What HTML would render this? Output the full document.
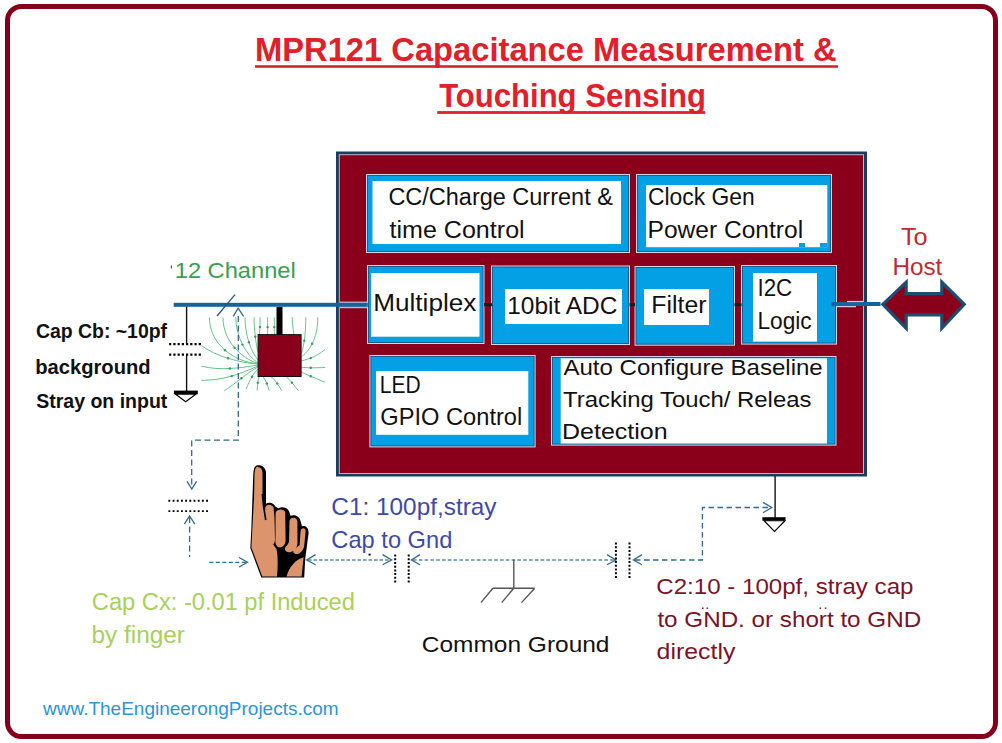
<!DOCTYPE html>
<html><head><meta charset="utf-8">
<style>
html,body{margin:0;padding:0;background:#ffffff;}
svg{display:block;font-family:"Liberation Sans", sans-serif;}
</style></head><body>
<svg width="1002" height="743" viewBox="0 0 1002 743">
<rect x="7.5" y="6.5" width="988" height="730" rx="14" ry="14" fill="#ffffff" stroke="#83001a" stroke-width="5"/>
<rect x="336" y="151.5" width="531" height="325" fill="#173f5c"/>
<rect x="338.8" y="154.2" width="525.2" height="319.8" fill="#c0b0cc"/>
<rect x="339.8" y="155.2" width="523.2" height="317.8" fill="#8a001a"/>
<rect x="366" y="174" width="264" height="79" fill="#d9d2e6"/>
<rect x="367" y="175" width="262" height="77" fill="#14608f"/>
<rect x="368" y="176" width="260" height="75" fill="#04a0e6"/>
<rect x="372.5" y="181" width="248.5" height="63" fill="#ffffff"/>
<rect x="636" y="174" width="196" height="79" fill="#d9d2e6"/>
<rect x="637" y="175" width="194" height="77" fill="#14608f"/>
<rect x="638" y="176" width="192" height="75" fill="#04a0e6"/>
<rect x="646" y="185" width="181.29999999999995" height="62.19999999999999" fill="#ffffff"/>
<rect x="799" y="243" width="6" height="4.3" fill="#04a0e6"/><rect x="820" y="243" width="7.4" height="4.3" fill="#04a0e6"/>
<rect x="367" y="265" width="117.5" height="79" fill="#d9d2e6"/>
<rect x="368" y="266" width="115.5" height="77" fill="#14608f"/>
<rect x="369" y="267" width="113.5" height="75" fill="#04a0e6"/>
<rect x="371" y="273" width="108.5" height="63.69999999999999" fill="#ffffff"/>
<rect x="491" y="265.5" width="139" height="79.5" fill="#d9d2e6"/>
<rect x="492" y="266.5" width="137" height="77.5" fill="#14608f"/>
<rect x="493" y="267.5" width="135" height="75.5" fill="#04a0e6"/>
<rect x="505" y="289" width="117" height="35" fill="#ffffff"/>
<rect x="634.5" y="266" width="100.5" height="79.69999999999999" fill="#d9d2e6"/>
<rect x="635.5" y="267" width="98.5" height="77.69999999999999" fill="#14608f"/>
<rect x="636.5" y="268" width="96.5" height="75.69999999999999" fill="#04a0e6"/>
<rect x="644" y="289" width="65" height="36" fill="#ffffff"/>
<rect x="741" y="265" width="96" height="79.60000000000002" fill="#d9d2e6"/>
<rect x="742" y="266" width="94" height="77.60000000000002" fill="#14608f"/>
<rect x="743" y="267" width="92" height="75.60000000000002" fill="#04a0e6"/>
<rect x="753" y="273" width="64" height="68.60000000000002" fill="#ffffff"/>
<rect x="369.4" y="355" width="166.20000000000005" height="92.39999999999998" fill="#d9d2e6"/>
<rect x="370.4" y="356" width="164.20000000000005" height="90.39999999999998" fill="#14608f"/>
<rect x="371.4" y="357" width="162.20000000000005" height="88.39999999999998" fill="#04a0e6"/>
<rect x="376" y="371" width="152.29999999999995" height="63.80000000000001" fill="#ffffff"/>
<rect x="551" y="356" width="285.5" height="89.60000000000002" fill="#d9d2e6"/>
<rect x="552" y="357" width="283.5" height="87.60000000000002" fill="#14608f"/>
<rect x="553" y="358" width="281.5" height="85.60000000000002" fill="#04a0e6"/>
<rect x="560.7" y="358.3" width="266.29999999999995" height="85.19999999999999" fill="#ffffff"/>
<text x="254.96" y="60.90" font-size="32.29" font-weight="bold" fill="#e0202a" textLength="581.67" lengthAdjust="spacingAndGlyphs">MPR121 Capacitance Measurement &amp;</text>
<text x="439.20" y="106.80" font-size="32.57" font-weight="bold" fill="#e0202a" textLength="266.79" lengthAdjust="spacingAndGlyphs">Touching Sensing</text>
<text x="388.40" y="204.60" font-size="23.33" font-weight="normal" fill="#111111" textLength="224.45" lengthAdjust="spacingAndGlyphs">CC/Charge Current &amp;</text>
<text x="389.50" y="237.50" font-size="23.33" font-weight="normal" fill="#111111" textLength="135.15" lengthAdjust="spacingAndGlyphs">time Control</text>
<text x="648.03" y="204.50" font-size="23.33" font-weight="normal" fill="#111111" textLength="106.65" lengthAdjust="spacingAndGlyphs">Clock Gen</text>
<text x="647.58" y="237.90" font-size="23.33" font-weight="normal" fill="#111111" textLength="155.54" lengthAdjust="spacingAndGlyphs">Power Control</text>
<text x="373.16" y="310.80" font-size="23.47" font-weight="normal" fill="#111111" textLength="103.24" lengthAdjust="spacingAndGlyphs">Multiplex</text>
<text x="507.29" y="313.80" font-size="23.90" font-weight="normal" fill="#111111" textLength="110.05" lengthAdjust="spacingAndGlyphs">10bit ADC</text>
<text x="651.36" y="313.40" font-size="23.47" font-weight="normal" fill="#111111" textLength="55.16" lengthAdjust="spacingAndGlyphs">Filter</text>
<text x="757.45" y="295.70" font-size="23.33" font-weight="normal" fill="#111111" textLength="34.82" lengthAdjust="spacingAndGlyphs">I2C</text>
<text x="757.42" y="328.60" font-size="23.04" font-weight="normal" fill="#111111" textLength="54.33" lengthAdjust="spacingAndGlyphs">Logic</text>
<text x="379.86" y="392.60" font-size="23.47" font-weight="normal" fill="#111111" textLength="40.87" lengthAdjust="spacingAndGlyphs">LED</text>
<text x="380.39" y="425.40" font-size="23.33" font-weight="normal" fill="#111111" textLength="141.87" lengthAdjust="spacingAndGlyphs">GPIO Control</text>
<text x="563.40" y="374.70" font-size="21.34" font-weight="normal" fill="#111111" textLength="259.37" lengthAdjust="spacingAndGlyphs">Auto Configure Baseline</text>
<text x="563.03" y="406.50" font-size="21.34" font-weight="normal" fill="#111111" textLength="248.42" lengthAdjust="spacingAndGlyphs">Tracking Touch/ Releas</text>
<text x="562.05" y="438.50" font-size="21.34" font-weight="normal" fill="#111111" textLength="105.56" lengthAdjust="spacingAndGlyphs">Detection</text>
<text x="900.90" y="244.60" font-size="23.47" font-weight="normal" fill="#c4282e" textLength="26.72" lengthAdjust="spacingAndGlyphs">To</text>
<text x="892.40" y="274.50" font-size="23.19" font-weight="normal" fill="#c4282e" textLength="49.91" lengthAdjust="spacingAndGlyphs">Host</text>
<text x="174.72" y="277.60" font-size="22.62" font-weight="normal" fill="#3a9e52" textLength="121.04" lengthAdjust="spacingAndGlyphs">12 Channel</text>
<text x="331.36" y="514.80" font-size="23.19" font-weight="normal" fill="#3e4aa8" textLength="165.14" lengthAdjust="spacingAndGlyphs">C1: 100pf,stray</text>
<text x="331.39" y="547.60" font-size="23.19" font-weight="normal" fill="#3e4aa8" textLength="120.94" lengthAdjust="spacingAndGlyphs">Cap to Gnd</text>
<text x="91.89" y="609.50" font-size="23.04" font-weight="normal" fill="#a9d05a" textLength="262.94" lengthAdjust="spacingAndGlyphs">Cap Cx: -0.01 pf Induced</text>
<text x="91.48" y="642.70" font-size="23.04" font-weight="normal" fill="#a9d05a" textLength="93.44" lengthAdjust="spacingAndGlyphs">by finger</text>
<text x="421.85" y="651.80" font-size="22.76" font-weight="normal" fill="#111111" textLength="187.62" lengthAdjust="spacingAndGlyphs">Common Ground</text>
<text x="656.27" y="594.00" font-size="22.76" font-weight="normal" fill="#7a1428" textLength="257.21" lengthAdjust="spacingAndGlyphs">C2:10 - 100pf, stray cap</text>
<text x="657.40" y="626.50" font-size="22.76" font-weight="normal" fill="#7a1428" textLength="263.74" lengthAdjust="spacingAndGlyphs">to GND. or short to GND</text>
<text x="656.62" y="658.90" font-size="22.76" font-weight="normal" fill="#7a1428" textLength="78.78" lengthAdjust="spacingAndGlyphs">directly</text>
<text x="43.10" y="714.90" font-size="18.92" font-weight="normal" fill="#2896d7" textLength="295.49" lengthAdjust="spacingAndGlyphs">www.TheEngineerongProjects.com</text>
<text x="35.89" y="338.30" font-size="19.91" font-weight="bold" fill="#111111" textLength="131.20" lengthAdjust="spacingAndGlyphs">Cap Cb: ~10pf</text>
<text x="35.24" y="374.30" font-size="19.91" font-weight="bold" fill="#111111" textLength="115.35" lengthAdjust="spacingAndGlyphs">background</text>
<text x="36.20" y="408.00" font-size="19.91" font-weight="bold" fill="#111111" textLength="131.20" lengthAdjust="spacingAndGlyphs">Stray on input</text>
<rect x="255" y="65.2" width="583" height="2.6" fill="#e0202a"/>
<rect x="437.2" y="111.1" width="268" height="2.8" fill="#e0202a"/>
<rect x="484" y="303.2" width="8" height="3" fill="#1a1a1a"/>
<rect x="629.5" y="303.2" width="5.5" height="3" fill="#1a1a1a"/>
<rect x="734.5" y="303.2" width="7" height="3" fill="#1a1a1a"/>
<rect x="339.8" y="301.6" width="27.5" height="6.6" fill="#c0bcd4"/>
<rect x="173.7" y="302.8" width="194" height="4" fill="#17649a"/>
<rect x="831.5" y="302" width="49" height="4" fill="#17649a"/>
<rect x="847" y="300.9" width="16" height="1.2" fill="#d8c8e0"/><rect x="837" y="306" width="19" height="1.2" fill="#d8c8e0"/>
<line x1="217" y1="316" x2="235" y2="294.7" stroke="#1f5a80" stroke-width="1.3"/>
<line x1="186.6" y1="306.6" x2="186.6" y2="344" stroke="#111" stroke-width="1.4"/>
<line x1="186.6" y1="355" x2="186.6" y2="391" stroke="#111" stroke-width="1.4"/>
<line x1="169.1" y1="344.2" x2="201.2" y2="344.2" stroke="#000" stroke-width="2.2" stroke-dasharray="2.2 2.03"/>
<line x1="169.1" y1="354.7" x2="201.2" y2="354.7" stroke="#000" stroke-width="2.2" stroke-dasharray="2.2 2.03"/>
<rect x="173.9" y="390.6" width="23.9" height="3.6" fill="#000"/>
<path d="M175.7 394.2 L195.7 394.2 L185.7 401.7 Z" fill="#fff" stroke="#000" stroke-width="1.1"/>
<rect x="276.5" y="307" width="6" height="28" fill="#000"/>
<path d="M209.4 317.4 C209.4 345 235 362 258.1 363.8 M223 317.4 C223 342 242 358 258.1 363.8 M235.8 317.4 C236 337 246 355 258.1 363 M245 317.4 C245 335 251 352 258.1 360 M254.1 317.4 C254 330 256 345 258.1 352 M201.4 345.5 C215 356 240 363 258.1 364 M201.4 366.1 C220 371 240 368 258.1 365 M201.4 380.4 C225 380 240 374 258.1 366 M224.3 390.7 C235 384 248 372 258.1 367 M246 389 C250 380 254 372 258.1 369 M257.1 390.6 C257.5 385 258 380 259 376.5 M269.1 390.6 C268 386 266 381 263 376.5 M281.8 390.6 C279 386 276 381 271 376.5 M298.3 390.6 C294 385 290 380 286 376.5 M260.1 317.2 C260 325 259.8 330 259.6 334.6 M267.6 317.2 C267.6 325 267.6 330 267.6 334.6 M274.3 317.2 C274.3 325 274.3 330 274.3 334.6 M292.3 317.2 C292 335 298 348 301.1 352 M305.8 317.2 C306 335 303 350 301.1 354 M317.8 317.2 C318 340 308 352 301.1 357 M325.2 349.4 C315 358 305 360 301.1 361 M325.2 367.4 C315 368 305 368 301.1 367 M325.2 382.3 C315 378 305 374 301.1 372" fill="none" stroke="#5cc184" stroke-width="1" opacity="0.95"/>
<g fill="#2fa05c"><circle cx="225.1" cy="350.3" r="1.2"/><circle cx="234.5" cy="347.7" r="1.2"/><circle cx="242.5" cy="344.6" r="1.2"/><circle cx="248.9" cy="342.3" r="1.2"/><circle cx="255.3" cy="336.8" r="1.2"/><circle cx="228.1" cy="358.3" r="1.2"/><circle cx="229.9" cy="368.5" r="1.2"/><circle cx="231.8" cy="376.1" r="1.2"/><circle cx="241.4" cy="378.2" r="1.2"/><circle cx="252.0" cy="376.8" r="1.2"/><circle cx="257.8" cy="382.8" r="1.2"/><circle cx="266.8" cy="383.5" r="1.2"/><circle cx="277.2" cy="383.5" r="1.2"/><circle cx="292.0" cy="382.8" r="1.2"/><circle cx="259.9" cy="327.1" r="1.2"/><circle cx="267.6" cy="327.1" r="1.2"/><circle cx="274.3" cy="327.1" r="1.2"/><circle cx="295.4" cy="339.8" r="1.2"/><circle cx="304.2" cy="340.8" r="1.2"/><circle cx="312.1" cy="343.8" r="1.2"/><circle cx="310.8" cy="358.1" r="1.2"/><circle cx="310.8" cy="367.8" r="1.2"/><circle cx="310.8" cy="376.3" r="1.2"/></g>
<rect x="258.1" y="334.6" width="43" height="41.9" fill="#8a001a" stroke="#111" stroke-width="1"/>
<path d="M238.3 316 L238.3 440.2 L191.7 440.2 L191.7 488" fill="none" stroke="#2e6a8e" stroke-width="1.3" stroke-dasharray="6 3.5"/>
<path d="M233.2 316.4 L238.2 308.2 L243.6 316.4" fill="none" stroke="#2e6a8e" stroke-width="1.3"/>
<path d="M187 481.3 L191.8 489.1 L196.6 481.3" fill="none" stroke="#2e6a8e" stroke-width="1.3"/>
<line x1="168.4" y1="500.7" x2="210" y2="500.7" stroke="#000" stroke-width="1.9" stroke-dasharray="1.9 2.29"/>
<line x1="168.4" y1="511.1" x2="210" y2="511.1" stroke="#000" stroke-width="1.9" stroke-dasharray="1.9 2.29"/>
<line x1="189.6" y1="517" x2="189.6" y2="557" stroke="#2e6a8e" stroke-width="1.3" stroke-dasharray="6 3.5"/>
<path d="M184.4 524.2 L189.6 516 L194.8 524.2" fill="none" stroke="#2e6a8e" stroke-width="1.3"/>
<line x1="209.3" y1="562.3" x2="246" y2="562.3" stroke="#2e6a8e" stroke-width="1.3" stroke-dasharray="4 2.5"/>
<path d="M239 557.5 L247.5 562.3 L239 567" fill="none" stroke="#2e6a8e" stroke-width="1.3"/>
<line x1="308" y1="560" x2="390" y2="560" stroke="#5a8ea6" stroke-width="1.5" stroke-dasharray="3.6 1.9"/>
<path d="M315.6 554.6 L306.6 560 L315.6 564.8" fill="none" stroke="#2e6a8e" stroke-width="1.3"/>
<path d="M382.6 554.6 L391.6 560 L382.6 564.8" fill="none" stroke="#2e6a8e" stroke-width="1.3"/>
<line x1="395.2" y1="554.5" x2="395.2" y2="582.5" stroke="#000" stroke-width="2" stroke-dasharray="2 1.72"/>
<line x1="408.7" y1="554.5" x2="408.7" y2="582.5" stroke="#000" stroke-width="2" stroke-dasharray="2 1.72"/>
<rect x="368.6" y="553.6" width="2" height="2" fill="#000"/>
<line x1="413" y1="560" x2="614" y2="560" stroke="#5a8ea6" stroke-width="1.3" stroke-dasharray="3.6 2.2"/>
<path d="M420 554.6 L411.4 560 L420 564.8" fill="none" stroke="#2e6a8e" stroke-width="1.3"/>
<path d="M607 554.6 L615.9 560 L607 564.8" fill="none" stroke="#2e6a8e" stroke-width="1.3"/>
<line x1="615.9" y1="542.5" x2="615.9" y2="578.5" stroke="#000" stroke-width="2" stroke-dasharray="2 1.72"/>
<line x1="629.5" y1="542.5" x2="629.5" y2="578.5" stroke="#000" stroke-width="2" stroke-dasharray="2 1.72"/>
<path d="M642 554.6 L633.5 560 L642 564.8" fill="none" stroke="#2e6a8e" stroke-width="1.3"/>
<path d="M635 560 L702.4 560 L702.4 507.5 L770 507.5" fill="none" stroke="#2e6a8e" stroke-width="1.3" stroke-dasharray="5.5 3.5"/>
<path d="M763 502.4 L771.8 507.5 L763 512.8" fill="none" stroke="#2e6a8e" stroke-width="1.3"/>
<path d="M513.8 559.8 L513.8 588.3 M492.9 588.3 L534.7 588.3 M492.9 588.3 L480.9 602.6 M513.8 588.3 L501.7 602.6 M534.7 588.3 L521.5 602.6" fill="none" stroke="#555" stroke-width="1.4"/>
<line x1="775.1" y1="476" x2="775.1" y2="518" stroke="#111" stroke-width="1.4"/>
<rect x="762.4" y="517.2" width="23.1" height="3.5" fill="#000"/>
<path d="M764.1 520.7 L785 520.7 L774.5 531.5 Z" fill="#fff" stroke="#000" stroke-width="1.1"/>
<path d="M882.8 304.3 L906.2 282.2 L906.2 293.6 L941.8 293.6 L941.8 282.2 L964.2 304.3 L941.8 328.3 L941.8 315 L906.2 315 L906.2 328.3 Z" fill="#8a001a" stroke="#1b4f72" stroke-width="3.2" stroke-linejoin="miter"/>
<path d="M258 465.3 C254.5 465.3 253.6 469 253.3 474 L251.3 530 L250.3 548 L261.3 577.6 L304.2 577.6 L305.2 559 L308.6 533 C308.6 527 305 525.3 302 526.3 L300.6 521.3 C299.6 515.8 294 514.3 290.5 515.8 L289.6 512.8 C288.2 507.3 282.5 506.3 278.5 508.3 L275.6 506.8 C273.6 502.3 268.5 501.8 266 503.8 L266 472 C265 467 262 465.3 258 465.3 Z" fill="#000"/>
<path d="M258 466.6 C255.8 466.6 254.6 470 254.5 475 L253.9 506 L262.5 506 L262.5 473 C262.3 469 260.5 467.3 258 467.3 Z" fill="#dc946c"/>
<path d="M253.9 500 L252.3 530 L251.4 547.5 L262.3 576.6 L277 576.6 C278 566 278 556 276.5 549 C273 545 270 538 268 530 L263 506 L263 500 Z" fill="#dc946c"/>
<path d="M265.3 507.5 C266.3 503.8 271.5 503.6 273.5 507.5 L274.5 518 L275 540 C274.5 546 270 547 268 538 L264.5 518 Z" fill="#dc946c"/>
<path d="M262.3 494 L263.5 506 L265.8 520" fill="none" stroke="#000" stroke-width="1.6"/>
<path d="M275.6 513 C276 508.8 284 508 285.2 512 L285.6 540 C285.6 546 281 548.6 278 547 C275.6 545.6 275 542 275.5 538 Z" fill="#dc946c"/>
<path d="M289.5 521 C290 516.8 296.4 516.4 297.4 521 L297.5 543 C297 550 292 553 287.5 552 C284.2 551 284.2 547 287 545.5 L289 542 Z" fill="#dc946c"/>
<path d="M300.6 531 C301 527.4 305.6 527.4 305.6 531 L304.2 546 C303.2 551 299.2 554.6 295.6 554 C292.6 553.6 292.6 550 295.2 548.6 L299.6 545 Z" fill="#dc946c"/>
<path d="M286.5 576.6 C289 567 295 560 303.6 557.2 L301.6 576.6 Z" fill="#dc946c"/>
<rect x="170.8" y="265.5" width="1.2" height="3" fill="#555"/>
<rect x="702" y="607.5" width="1.6" height="1.4" fill="#7a1428"/><rect x="706.5" y="607.5" width="1.6" height="1.4" fill="#7a1428"/>
<rect x="819.5" y="607.5" width="1.6" height="1.4" fill="#7a1428"/><rect x="824.8" y="607.5" width="1.6" height="1.4" fill="#7a1428"/>
</svg>
</body></html>
